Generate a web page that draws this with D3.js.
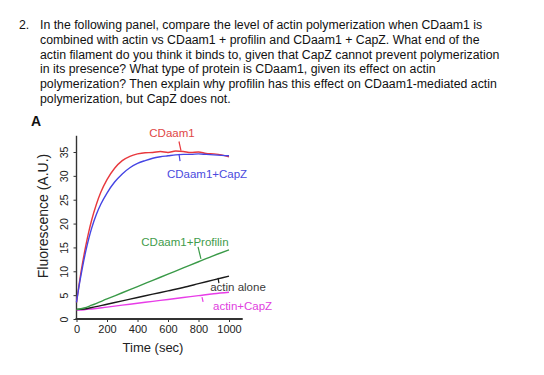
<!DOCTYPE html>
<html>
<head>
<meta charset="utf-8">
<script src="https://cdn.jsdelivr.net/npm/d3@7"></script>
<style>
  body { margin: 0; background: #fff; }
  svg { display: block; font-family: "Liberation Sans", Arial, sans-serif; }
</style>
</head>
<body>
<div id="chart"></div>
<script>
// --- Question text ---
const questionLines = [
  "In the following panel, compare the level of actin polymerization when CDaam1 is",
  "combined with actin vs CDaam1 + profilin and CDaam1 + CapZ. What end of the",
  "actin filament do you think it binds to, given that CapZ cannot prevent polymerization",
  "in its presence? What type of protein is CDaam1, given its effect on actin",
  "polymerization? Then explain why profilin has this effect on CDaam1-mediated actin",
  "polymerization, but CapZ does not."
];

// --- Data ---
const fastTime = [0, 20, 40, 60, 80, 100, 130, 160, 200, 250, 300, 350, 400, 450, 500,
  550, 600, 650, 700, 750, 800, 850, 900, 950, 1000];
const cdaam1 = [3.5, 7.9, 11.8, 15.2, 18.2, 20.8, 24, 26.6, 29.2, 31.6, 33.2, 34.1, 34.6,
  34.85, 34.9, 35.1, 34.9, 35.2, 35.1, 34.9, 35, 34.7, 34.6, 34.4, 34];
const cdaam1CapZ = [3.5, 7.5, 11, 14.1, 16.8, 19.1, 21.9, 24.1, 26.4, 28.7, 30.4, 31.7, 32.6,
  33.2, 33.7, 34, 34.2, 34.4, 34.5, 34.5, 34.6, 34.5, 34.4, 34.3, 34.2];

const slowTime = [0, 50, 100, 200, 300, 400, 500, 600, 700, 800, 900, 1000];
const cdaam1Profilin = [2, 2.3, 2.9, 4.2, 5.5, 6.8, 8.1, 9.4, 10.7, 12, 13.3, 14.5];
const actinAlone = [2, 2.1, 2.4, 3.1, 3.8, 4.5, 5.2, 5.9, 6.6, 7.4, 8.2, 9];
const actinCapZ = [1.9, 1.95, 2.1, 2.5, 2.9, 3.3, 3.7, 4.1, 4.5, 4.9, 5.3, 5.6];

const xTicks = [0, 200, 400, 600, 800, 1000];
const yTicks = [0, 5, 10, 15, 20, 25, 30, 35];

const seriesNames = ["CDaam1", "CDaam1+CapZ", "CDaam1+Profilin", "actin alone", "actin+CapZ"];
const seriesColors = ["#e8383d", "#4545e4", "#3a9a48", "#1a1a1a", "#e83ce8"];
const labelColors = ["#e04646", "#4a4ade", "#3f9c4c", "#3a3a3a", "#e040e0"];

const series = [
  { name: seriesNames[0], t: fastTime, v: cdaam1 },
  { name: seriesNames[1], t: fastTime, v: cdaam1CapZ },
  { name: seriesNames[2], t: slowTime, v: cdaam1Profilin },
  { name: seriesNames[3], t: slowTime, v: actinAlone },
  { name: seriesNames[4], t: slowTime, v: actinCapZ }
];

// label placement in data units: text centre + leader line
const labelSpots = [
  { tx: 626, ty: 38.8, l: [672, 37.2, 685, 35.3] },
  { tx: 856, ty: 30.2, l: [672, 34.6, 679, 33.1] },
  { tx: 711, ty: 15.9, l: [797, 15.1, 816, 12.6] },
  { tx: 1059, ty: 6.5, l: [928, 8.6, 934, 7.5] },
  { tx: 1089, ty: 2.5, l: [823, 4.6, 830, 3.6] }
];

const W = 544, H = 375;
const svg = d3.select("#chart").append("svg").attr("width", W).attr("height", H);

// --- Question ---
const q = svg.append("g").attr("font-size", 12.3).attr("fill", "#111");
q.append("text").attr("x", 19).attr("y", 29).text("2.");
q.selectAll("text.line").data(questionLines).join("text")
  .attr("class", "line")
  .attr("x", 40)
  .attr("y", (d, i) => 29 + i * 14.8)
  .text(d => d);

svg.append("text").attr("x", 31).attr("y", 126)
  .attr("font-size", 14).attr("font-weight", "bold").attr("fill", "#111").text("A");

// --- Scales ---
const x = d3.scaleLinear().domain([0, 1000]).range([76.5, 229]);
const y = d3.scaleLinear().domain([0, 35]).range([319, 152]);

const plot = svg.append("g");

// axes
const yAxis = plot.append("g").attr("transform", `translate(${x(0)},0)`)
  .call(d3.axisLeft(y).tickValues(yTicks).tickSize(3).tickPadding(5));
yAxis.select(".domain").remove();
yAxis.append("line").attr("x1", 0).attr("x2", 0).attr("y1", y(0)).attr("y2", y(38.4))
  .attr("stroke", "#333").attr("stroke-width", 1.4);
yAxis.selectAll(".tick line").attr("stroke", "#333");
yAxis.selectAll(".tick text")
  .attr("font-size", 10.5).attr("fill", "#222").attr("font-family", null)
  .attr("text-anchor", "middle").attr("dy", null)
  .attr("x", null)
  .attr("transform", "translate(-11,0) rotate(-90)")
  .attr("dominant-baseline", "middle");

const xAxis = plot.append("g").attr("transform", `translate(0,${y(0)})`)
  .call(d3.axisBottom(x).tickValues(xTicks).tickFormat(d3.format("d")).tickSize(3).tickPadding(3));
xAxis.select(".domain").remove();
xAxis.append("line").attr("x1", x(0) - 1).attr("x2", x(1090)).attr("y1", 0).attr("y2", 0)
  .attr("stroke", "#333").attr("stroke-width", 2);
xAxis.selectAll(".tick line").attr("stroke", "#333");
xAxis.selectAll(".tick text").attr("font-size", 11).attr("fill", "#222").attr("font-family", null);

// axis titles
plot.append("text")
  .attr("transform", `translate(48,216) rotate(-90)`)
  .attr("text-anchor", "middle").attr("font-size", 14).attr("fill", "#222")
  .text("Fluorescence (A.U.)");
plot.append("text")
  .attr("x", 153).attr("y", 352)
  .attr("text-anchor", "middle").attr("font-size", 13).attr("fill", "#222")
  .text("Time (sec)");

// curves
const line = d3.line().x(d => x(d[0])).y(d => y(d[1])).curve(d3.curveMonotoneX);
const drawOrder = [4, 3, 2, 0, 1];
drawOrder.forEach(i => {
  const s = series[i];
  plot.append("path")
    .datum(s.t.map((t, k) => [t, s.v[k]]))
    .attr("fill", "none")
    .attr("stroke", seriesColors[i])
    .attr("stroke-width", 1.4)
    .attr("d", line);
});

// labels and leader lines
series.forEach((s, i) => {
  const sp = labelSpots[i];
  plot.append("text")
    .attr("x", x(sp.tx)).attr("y", y(sp.ty))
    .attr("text-anchor", "middle").attr("dominant-baseline", "middle")
    .attr("font-size", 11.5).attr("fill", labelColors[i])
    .text(s.name);
  plot.append("line")
    .attr("x1", x(sp.l[0])).attr("y1", y(sp.l[1]))
    .attr("x2", x(sp.l[2])).attr("y2", y(sp.l[3]))
    .attr("stroke", seriesColors[i]).attr("stroke-width", 1.2);
});
</script>
</body>
</html>
